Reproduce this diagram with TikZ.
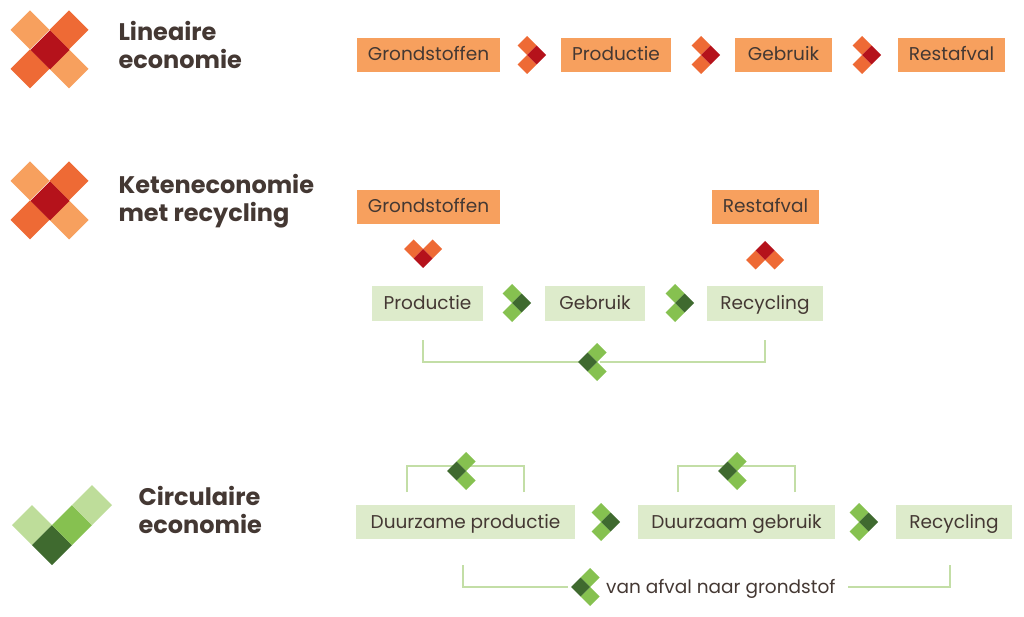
\documentclass[tikz,border=0pt]{standalone}
\usepackage{fontspec}
\setmainfont{Poppins}
\definecolor{lor}{HTML}{F7A05E}
\definecolor{mor}{HTML}{EE6A35}
\definecolor{dred}{HTML}{B5121B}
\definecolor{lgr}{HTML}{BEDD9A}
\definecolor{mgr}{HTML}{86C150}
\definecolor{dgr}{HTML}{3F6A2F}
\definecolor{gbox}{HTML}{DDEBCB}
\definecolor{gline}{HTML}{C3DEA6}
\definecolor{txt}{HTML}{443833}
\newcommand\dia[4]{\fill[#4] ({#1+#3},{#2})--({#1},{#2+#3})--({#1-#3},{#2})--({#1},{#2-#3})--cycle;}
% center x,y ; direction dx,dy ; light ; dark
\newcommand\chev[6]{\dia{#1+#4}{#2-#3}{9.5}{#5}\dia{#1-#4}{#2+#3}{9.5}{#5}\dia{#1+#3}{#2+#4}{9.5}{#6}}
\begin{document}
\begin{tikzpicture}[x=1pt,y=-1pt,
  lab/.style={text=txt,font=\fontsize{18.5}{22}\selectfont,inner sep=0pt,text height=15pt,text depth=3pt},
  obox/.style={lab,fill=lor,minimum height=34pt},
  gbx/.style={lab,fill=gbox,minimum height=34pt},
  title/.style={text=txt,font=\fontsize{24}{30}\selectfont\bfseries,align=left,anchor=west},
  gl/.style={draw=gline,line width=1.2pt}]
\useasboundingbox (0,0) rectangle (1024,617);
% logos
\dia{30}{30}{19.5}{lor}\dia{69}{30}{19.5}{mor}\dia{30}{69}{19.5}{mor}\dia{69}{69}{19.5}{lor}\dia{50}{50}{19.5}{dred}
\dia{30}{181}{19.5}{lor}\dia{69}{181}{19.5}{mor}\dia{30}{220}{19.5}{mor}\dia{69}{220}{19.5}{lor}\dia{50}{201}{19.5}{dred}
\dia{32}{525}{20}{lgr}\dia{52}{545}{20}{dgr}\dia{72}{525}{20}{mgr}\dia{92}{505}{20}{lgr}
\node[title] (t1) at (115,45) {Lineaire\\[-2pt]economie};
\node[title] (t2) at (115,201) {Keteneconomie\\[-2pt]met recycling};
\node[title] (t3) at (135,510) {Circulaire\\[-2pt]economie};
% row 1
\node[obox,minimum width=143pt] (a1) at (428.5,55) {Grondstoffen};
\node[obox,minimum width=110pt] (a2) at (616,55) {Productie};
\node[obox,minimum width=97pt] (a3) at (783.5,55) {Gebruik};
\node[obox,minimum width=107pt] (a4) at (951.5,55) {Restafval};
\chev{527}{55}{9.5}{0}{mor}{dred}
\chev{701}{55}{9.5}{0}{mor}{dred}
\chev{862}{55}{9.5}{0}{mor}{dred}
% row 2
\node[obox,minimum width=143pt] (b1) at (428.5,207) {Grondstoffen};
\node[obox,minimum width=107pt] (b2) at (765.5,207) {Restafval};
\chev{423}{249}{0}{9.5}{mor}{dred}
\chev{765}{260}{0}{-9.5}{mor}{dred}
\node[gbx,minimum width=111pt] (c1) at (427.5,303.5) {Productie};
\node[gbx,minimum width=100pt] (c2) at (595,303.5) {Gebruik};
\node[gbx,minimum width=116pt] (c3) at (765,303.5) {Recycling};
\chev{512}{303}{9.5}{0}{mgr}{dgr}
\chev{675}{303}{9.5}{0}{mgr}{dgr}
\coordinate (k1) at (423,340); \coordinate (k2) at (765,340);
\draw[gl] (k1) |- (585,362); \draw[gl] (k2) |- (600,362);
\chev{597}{362}{-9.5}{0}{mgr}{dgr}
% row 3
\node[gbx,minimum width=219pt] (d1) at (465.5,522) {Duurzame productie};
\node[gbx,minimum width=197pt] (d2) at (736.5,522) {Duurzaam gebruik};
\node[gbx,minimum width=116pt] (d3) at (954,522) {Recycling};
\chev{601}{522}{9.5}{0}{mgr}{dgr}
\chev{859}{522}{9.5}{0}{mgr}{dgr}
\coordinate (e1) at (407,492); \coordinate (e2) at (524,492);
\draw[gl] (e1) |- (455,466); \draw[gl] (e2) |- (470,466);
\chev{466}{471}{-9.5}{0}{mgr}{dgr}
\coordinate (f1) at (678,492); \coordinate (f2) at (795,492);
\draw[gl] (f1) |- (726,466); \draw[gl] (f2) |- (741,466);
\chev{737}{471}{-9.5}{0}{mgr}{dgr}
\coordinate (g1) at (463,565); \coordinate (g2) at (950,565);
\node[lab,anchor=west] (lbl) at (606,587) {van afval naar grondstof};
\coordinate (g3) at ([xshift=12pt]lbl.east);
\draw[gl] (g1) |- (568,587); \draw[gl] (g2) |- (g3);
\chev{590}{587}{-9.5}{0}{mgr}{dgr}
\end{tikzpicture}
\end{document}
